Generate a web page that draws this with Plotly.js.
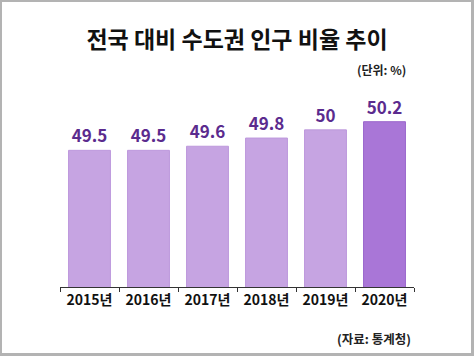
<!DOCTYPE html>
<html>
<head>
<meta charset="utf-8">
<script src="https://cdn.plot.ly/plotly-3.0.1.min.js"></script>
<style>
html,body{margin:0;padding:0;background:#fff;}
#wrap{position:relative;width:474px;height:356px;}
#chart{width:474px;height:356px;}
#frame{position:absolute;left:0;top:0;width:474px;height:356px;box-sizing:border-box;border:2px solid #b3b3b3;border-bottom-width:3px;border-right-width:3px;pointer-events:none;}
</style>
</head>
<body>
<div id="wrap"><div id="chart"></div><div id="frame"></div></div>
<script>
const categories = ['2015년', '2016년', '2017년', '2018년', '2019년', '2020년'];
const values = [49.5, 49.5, 49.6, 49.8, 50, 50.2];
const valueLabels = ['49.5', '49.5', '49.6', '49.8', '50', '50.2'];
const titleText = '전국 대비 수도권 인구 비율 추이';
const unitText = '(단위: %)';
const sourceText = '(자료: 통계청)';

const FONT = '"Noto Sans CJK KR", "Noto Sans", sans-serif';
const barColors = values.map((v, i) => i === values.length - 1 ? '#a976d7' : '#c6a4e2');
const lineColors = values.map((v, i) => i === values.length - 1 ? '#9a66cc' : '#bd98dc');

const trace = {
  type: 'bar',
  x: categories,
  y: values,
  text: valueLabels,
  textposition: 'outside',
  cliponaxis: false,
  textfont: {family: FONT, size: 17, color: '#5b2b8e', weight: 'bold'},
  marker: {color: barColors, line: {color: lineColors, width: 1}},
  hoverinfo: 'none'
};

const layout = {
  width: 474, height: 356,
  margin: {l: 60, r: 60, t: 100, b: 69},
  paper_bgcolor: '#ffffff',
  plot_bgcolor: '#ffffff',
  bargap: 0.29,
  showlegend: false,
  title: {
    text: '<b>' + titleText + '</b>',
    font: {family: FONT, size: 23, color: '#111111'},
    x: 0.5, xanchor: 'center',
    y: 1 - 40 / 356, yanchor: 'middle', yref: 'container'
  },
  xaxis: {
    type: 'category',
    showline: true, linecolor: '#333333', linewidth: 1,
    ticks: 'outside', tickson: 'boundaries', ticklen: 4, tickcolor: '#333333',
    tickfont: {family: FONT, size: 14, color: '#111111', weight: 'bold'},
    showgrid: false, zeroline: false, fixedrange: true
  },
  yaxis: {
    range: [46.16, 50.73],
    visible: false, showgrid: false, zeroline: false, fixedrange: true
  },
  annotations: [
    {text: '<b>' + unitText + '</b>', xref: 'paper', yref: 'paper', x: 0.983, y: (287 - 69) / 187,
     xanchor: 'right', yanchor: 'middle', showarrow: false,
     font: {family: FONT, size: 12, color: '#222222'}},
    {text: '<b>' + sourceText + '</b>', xref: 'paper', yref: 'paper', x: 0.997, y: (287 - 338) / 187,
     xanchor: 'right', yanchor: 'middle', showarrow: false,
     font: {family: FONT, size: 12.5, color: '#222222'}}
  ]
};

Plotly.newPlot('chart', [trace], layout, {displayModeBar: false, staticPlot: true});
</script>
</body>
</html>
